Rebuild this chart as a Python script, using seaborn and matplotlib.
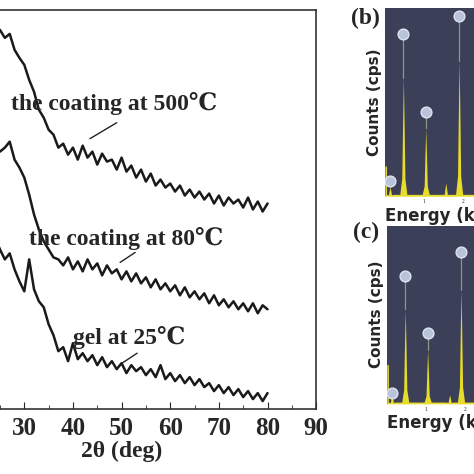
import numpy as np
import pandas as pd
import seaborn as sns
import matplotlib
matplotlib.use("Agg")
import matplotlib.pyplot as plt

sns.set_style("white")
plt.rcParams['font.family'] = ['Liberation Serif', 'DejaVu Serif']

two_theta = list(range(20, 81))
coating_500 = [395,400,385,392,378,380,372,376,360,352,345,330,318,300,292,280,275,262,266,255,262,250,264,252,258,245,256,248,250,240,252,238,244,232,240,228,236,224,230,222,226,218,224,214,220,212,218,210,216,206,214,204,212,206,210,202,212,200,208,198,206]
coating_80 = [285,272,280,268,262,258,262,268,250,242,232,215,195,180,168,160,152,150,144,152,140,148,138,150,140,146,134,144,136,140,130,138,128,136,126,132,122,130,120,126,118,124,114,122,112,118,110,116,106,114,104,110,102,108,100,106,98,106,96,104,100]
gel_25 = [185,175,178,168,172,160,150,156,140,128,118,150,120,108,102,85,74,58,62,48,66,50,56,48,54,44,52,42,48,40,46,36,44,38,42,34,40,32,44,30,36,28,34,26,32,24,30,22,26,18,24,16,22,14,20,12,18,10,16,8,16]
labels = ["the coating at 500℃", "the coating at 80℃", "gel at 25℃"]
x_ticks = [30, 40, 50, 60, 70, 80, 90]

# EDS spectra (b) and (c): energy (keV), yellow height, marker height
energy_b = [0.13, 0.47, 1.04, 1.55, 1.89]
yellow_b = [5, 63, 36, 7, 72]
marker_b = [8, 86, 45, None, 96]
energy_c = [0.13, 0.47, 1.04, 1.60, 1.89]
yellow_c = [5, 53, 30, 5, 64]
marker_c = [6, 72, 40, None, 85]

fig = plt.figure(figsize=(4.74, 4.74), dpi=100)
ax = fig.add_axes([-0.154, 0.137, 0.821, 0.842])
df = pd.DataFrame({"x": two_theta * 3,
                   "y": coating_500 + coating_80 + gel_25,
                   "s": [labels[0]] * 61 + [labels[1]] * 61 + [labels[2]] * 61})
sns.lineplot(data=df, x="x", y="y", units="s", estimator=None, color="#1a1a1a",
             lw=1.8, ax=ax, legend=False)
ax.set_xlim(10, 90)
ax.set_ylim(0, 400)
ax.set_yticks([])
ax.set_xticks(x_ticks)
ax.set_xticks(range(15, 90, 10), minor=True)
ax.tick_params(axis='x', which='both', direction='in', bottom=True, length=5, labelsize=18, pad=6)
ax.tick_params(axis='x', which='minor', length=3)
for t in ax.get_xticklabels():
    t.set_fontweight('bold')
for s in ax.spines.values():
    s.set_color("#333333"); s.set_linewidth(1.2)
ax.set_xlabel("2θ (deg)", fontsize=17, fontweight='bold', labelpad=0)
ax.set_ylabel("")
txt = dict(fontsize=17, fontweight='bold', ha='center', va='center')
ax.text(48.5, 306, labels[0], **txt)
ax.text(51, 171, labels[1], **txt)
ax.text(51.5, 72, labels[2], **txt)
for (x0, y0, x1, y1) in [(43.5, 271, 49, 287), (49.7, 147, 52.8, 157), (50.1, 46, 53.2, 56)]:
    ax.plot([x0, x1], [y0, y1], color="#222222", lw=1)

def eds(rect, energies, yellow, marker, block, label, tag):
    a = fig.add_axes(rect)
    a.set_facecolor("#3b4058")
    xs, ys = [0, 0.04, 0.04], [block, block, 1]
    for e, h in zip(energies, yellow):
        xs += [e - 0.09, e - 0.04, e - 0.02, e, e + 0.02, e + 0.04, e + 0.09]
        ys += [1, h * 0.15, h * 0.6, h, h * 0.6, h * 0.15, 1]
    xs.append(3.5); ys.append(1)
    a.fill_between(xs, ys, 0, color="#e8dc2a", lw=0)
    for e, h, m in zip(energies, yellow, marker):
        if m is not None:
            a.plot([e, e], [h, m], color="#8a9a80", lw=0.9)
            a.scatter([e], [m], s=60, color="#b9c4da", edgecolor="#dde3f0", zorder=3)
    a.set_xlim(0, 3.5); a.set_ylim(0, 100)
    a.set_yticks([]); a.set_xticks([1, 2]); a.set_xticklabels(["1", "2"], fontsize=4)
    a.tick_params(length=0, pad=2)
    for s in a.spines.values():
        s.set_visible(False)
    a.set_ylabel("Counts (cps)", fontsize=11, fontweight='bold', family='DejaVu Sans', labelpad=2)
    a.set_xlabel("Energy (keV)", fontsize=12, fontweight='bold', family='DejaVu Sans', labelpad=2, loc='left')
    fig.text(tag[0], tag[1], label, fontsize=17, fontweight='bold', ha='left', va='center')

eds([0.812, 0.586, 0.29, 0.397], energy_b, yellow_b, marker_b, 16, "(b)", (0.74, 0.962))
eds([0.816, 0.148, 0.29, 0.376], energy_c, yellow_c, marker_c, 22, "(c)", (0.745, 0.51))

fig.savefig("out.png", dpi=100)
